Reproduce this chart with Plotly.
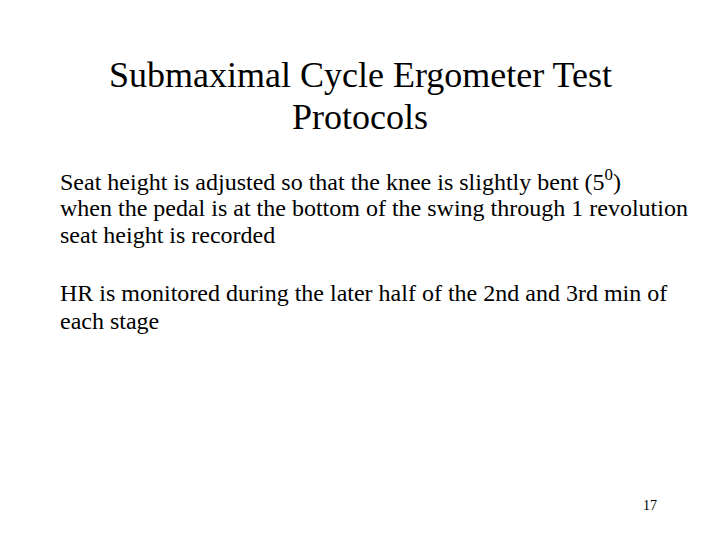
import plotly.graph_objects as go

title_lines = ["Submaximal Cycle Ergometer Test", "Protocols"]
body_lines = [
    "Seat height is adjusted so that the knee is slightly bent (5<sup>0</sup>)",
    "when the pedal is at the bottom of the swing through 1 revolution",
    "seat height is recorded",
    "HR is monitored during the later half of the 2nd and 3rd min of",
    "each stage",
]
page_number = "17"

W, H = 720, 540
FONT = "Liberation Serif, Times New Roman, serif"

# page sits a few px in from the window edge (body margin)
OFF_X, OFF_Y = 8, 4


def py(baseline, size):
    # annotation middle from the wanted text baseline on screen
    return 1 - (baseline - OFF_Y - 0.4 * size) / H


fig = go.Figure()

# title, centred
for txt, base in zip(title_lines, [85, 127]):
    fig.add_annotation(x=(360 - OFF_X) / W, y=py(base, 36), xref="paper", yref="paper",
                       text=txt, showarrow=False, xanchor="center", yanchor="middle",
                       font=dict(family=FONT, size=36, color="black"))

# body text, left aligned
body_base = [186, 214, 241, 299, 327]
for txt, base in zip(body_lines, body_base):
    fig.add_annotation(x=(60 - OFF_X - 2) / W, y=py(base, 24),
                       xref="paper", yref="paper", text=txt, showarrow=False,
                       xanchor="left", yanchor="middle",
                       font=dict(family=FONT, size=24, color="black"))

fig.add_annotation(x=(657 - OFF_X + 2) / W, y=py(507, 14), xref="paper", yref="paper",
                   text=page_number, showarrow=False, xanchor="right", yanchor="middle",
                   font=dict(family=FONT, size=14, color="black"))

fig.update_layout(
    width=W, height=H,
    margin=dict(l=0, r=0, t=0, b=0),
    paper_bgcolor="white", plot_bgcolor="white",
    xaxis=dict(visible=False), yaxis=dict(visible=False),
    showlegend=False,
)

fig.write_html("out.html")
